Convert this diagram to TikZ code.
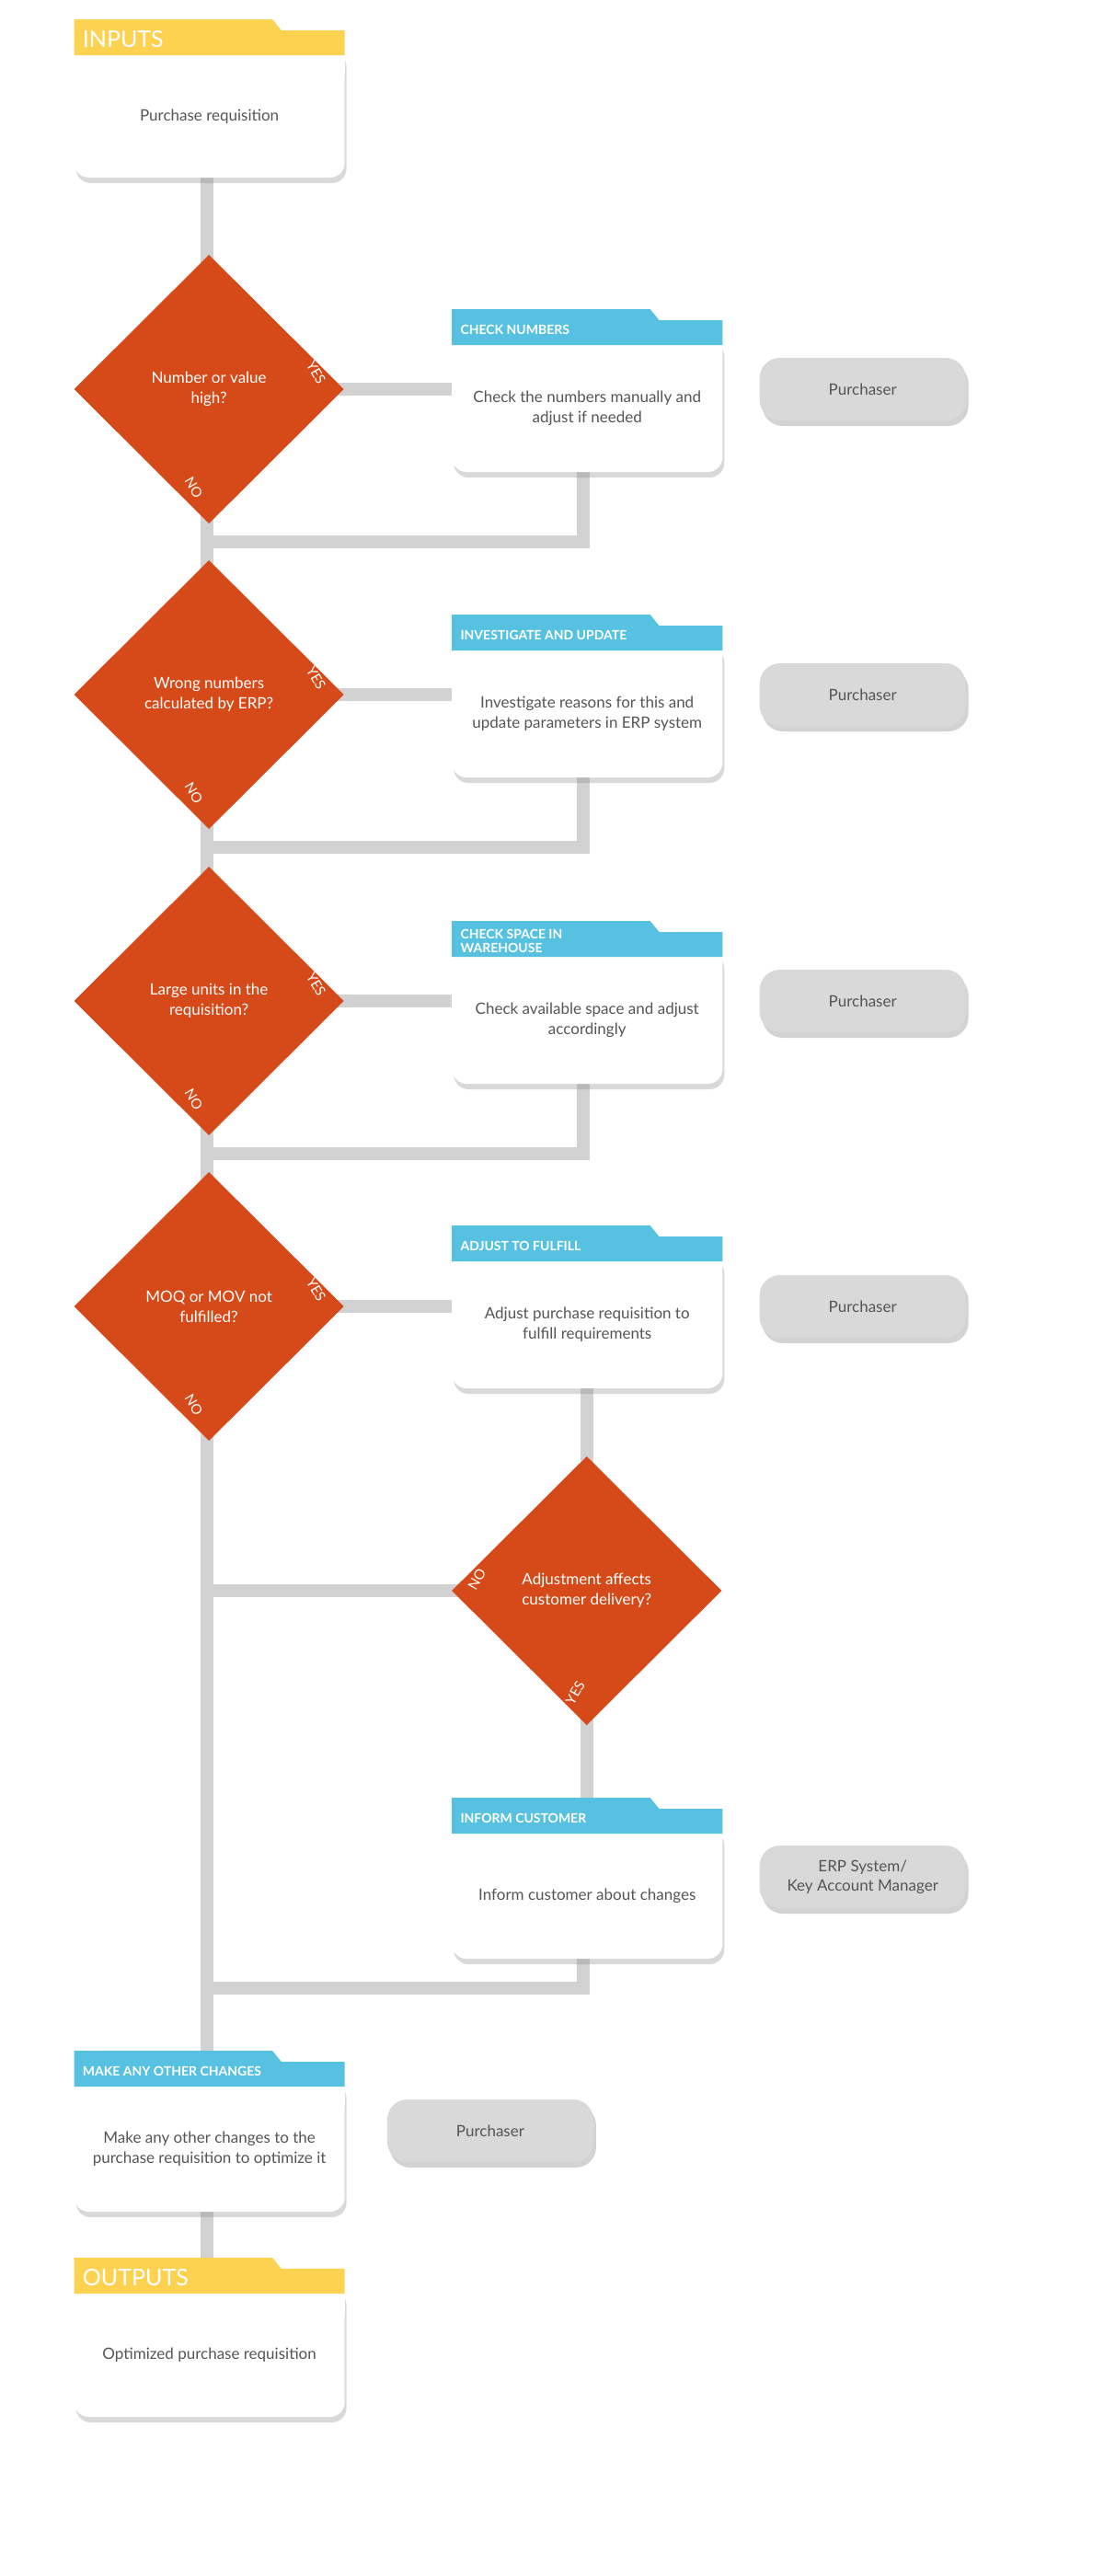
\documentclass[tikz,border=0pt]{standalone}
\usepackage{fontspec}
\setmainfont{Lato}
\usetikzlibrary{shadows}
\definecolor{inyellow}{HTML}{FDD250}
\definecolor{stepblue}{HTML}{56C1E1}
\definecolor{decorange}{HTML}{D54A18}
\definecolor{pillgray}{HTML}{D9D9D9}
\definecolor{linegray}{HTML}{D2D2D2}
\definecolor{txtgray}{HTML}{555555}
\tikzset{
  flow/.style={line width=14pt, linegray},
  bodytext/.style={text=txtgray, font=\fontsize{17}{22}\selectfont, align=center},
  headtext/.style={text=white, font=\bfseries\fontsize{14}{15}\selectfont, anchor=west, align=left},
  dectext/.style={text=white, font=\fontsize{17}{22}\selectfont, align=center},
  yesno/.style={text=white, font=\fontsize{15}{15}\selectfont, inner sep=1pt},
  pill/.style={fill=pillgray, rounded corners=22pt, minimum width=224pt, minimum height=68pt,
    text=txtgray, font=\fontsize{17}{21}\selectfont, align=center,
    drop shadow={shadow xshift=3pt, shadow yshift=-6pt, opacity=0.35}},
  boxshadow/.style={drop shadow={shadow xshift=2pt, shadow yshift=-6pt, opacity=0.3}}
}
% folder box: name, left x, top y, bottom y, colour, title, body text
\newcommand{\folder}[7]{%
  \fill[white, boxshadow, rounded corners=16pt] (#2,#3-30) -- (#2+303,#3-30) -- (#2+303,#4) -- (#2,#4) -- cycle;
  \fill[white] (#2,#3-30) rectangle (#2+303,#3-60);
  \fill[#5] (#2,#3) -- (#2+222,#3) -- (#2+232,#3-12) -- (#2+303,#3-12) -- (#2+303,#3-39) -- (#2,#3-39) -- cycle;
  \node[headtext] (#1h) at (#2+6,#3-22) {#6};
  \node[bodytext] (#1) at (#2+151.5,{(#3-39+#4)/2}) {#7};
}
% decision: name, centre x, centre y, text
\newcommand{\decision}[4]{%
  \fill[decorange] (#2,#3+146) -- (#2+151,#3) -- (#2,#3-146) -- (#2-151,#3) -- cycle;
  \node[dectext] (#1) at (#2,#3) {#4};
}
\begin{document}
\begin{tikzpicture}[x=0.9707pt,y=1pt]
\useasboundingbox (0,0) rectangle (1236.2,-2800);

% flow lines
\draw[flow] (232,-193) -- (232,-2454);
\draw[flow] (232,-423) -- (506,-423);
\draw[flow] (653,-513) -- (653,-589) -- (232,-589);
\draw[flow] (232,-755) -- (506,-755);
\draw[flow] (653,-845) -- (653,-921) -- (232,-921);
\draw[flow] (232,-1088) -- (506,-1088);
\draw[flow] (653,-1178) -- (653,-1254) -- (232,-1254);
\draw[flow] (232,-1420) -- (506,-1420);
\draw[flow] (657,-1509) -- (657,-1954);
\draw[flow] (657,-1729) -- (232,-1729);
\draw[flow] (653,-2129) -- (653,-2161) -- (232,-2161);

% inputs
\folder{inputs}{83}{-21}{-193}{inyellow}{\mdseries\fontsize{25}{26}\selectfont INPUTS}{Purchase requisition}

% decisions
\decision{dnum}{234}{-423}{Number or value\\high?}
\decision{derp}{234}{-755}{Wrong numbers\\calculated by ERP?}
\decision{dunits}{234}{-1088}{Large units in the\\requisition?}
\decision{dmoq}{234}{-1420}{MOQ or MOV not\\fulfilled?}
\decision{dcust}{657}{-1729}{Adjustment affects\\customer delivery?}

\foreach \cy in {-423,-755,-1088,-1420}{
  \node[yesno, rotate=-60] at (354,\cy+18) {YES};
  \node[yesno, rotate=-60] at (217,\cy-107) {NO};
}
\node[yesno, rotate=60] at (534,-1717) {NO};
\node[yesno, rotate=60] at (644,-1840) {YES};

% steps
\folder{checknum}{506}{-336}{-513}{stepblue}{CHECK NUMBERS}{Check the numbers manually and\\adjust if needed}
\folder{investig}{506}{-668}{-845}{stepblue}{INVESTIGATE AND UPDATE}{Investigate reasons for this and\\update parameters in ERP system}
\folder{space}{506}{-1001}{-1178}{stepblue}{CHECK SPACE IN\\WAREHOUSE}{Check available space and adjust\\accordingly}
\folder{adjust}{506}{-1332}{-1509}{stepblue}{ADJUST TO FULFILL}{Adjust purchase requisition to\\fulfill requirements}
\folder{inform}{506}{-1954}{-2129}{stepblue}{INFORM CUSTOMER}{Inform customer about changes}
\folder{other}{83}{-2229}{-2404}{stepblue}{MAKE ANY OTHER CHANGES}{Make any other changes to the\\purchase requisition to optimize it}
\folder{outputs}{83}{-2454}{-2627}{inyellow}{\mdseries\fontsize{25}{26}\selectfont OUTPUTS}{Optimized purchase requisition}

% roles
\node[pill] (role1) at (966,-423) {Purchaser};
\node[pill] (role2) at (966,-755) {Purchaser};
\node[pill] (role3) at (966,-1088) {Purchaser};
\node[pill] (role4) at (966,-1420) {Purchaser};
\node[pill] (role5) at (966,-2040) {ERP System/\\Key Account Manager};
\node[pill] (role6) at (549,-2316) {Purchaser};
\end{tikzpicture}
\end{document}
